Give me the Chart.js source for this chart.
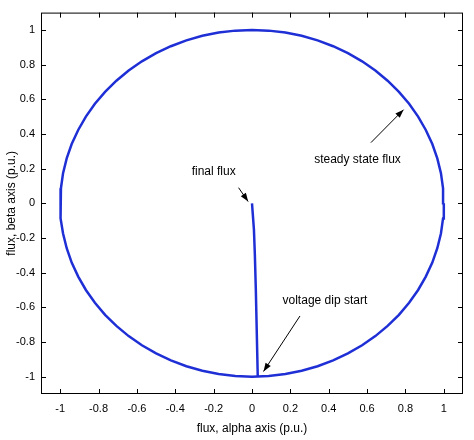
<!DOCTYPE html>
<html><head><meta charset="utf-8">
<script src="https://cdn.jsdelivr.net/npm/chart.js@4"></script>
<style>body{margin:0;background:#fff}</style>
</head><body>
<canvas id="c" width="474" height="440"></canvas>
<script>
const circleX = [1,.996,.985,.966,.940,.906,.866,.819,.766,.707,.643,.574,.5,.423,.342,.259,.174,.087,0,
  -.087,-.174,-.259,-.342,-.423,-.5,-.574,-.643,-.707,-.766,-.819,-.866,-.906,-.940,-.966,-.985,-.996,-1,
  -.996,-.985,-.966,-.940,-.906,-.866,-.819,-.766,-.707,-.643,-.574,-.5,-.423,-.342,-.259,-.174,-.087,0,
  .087,.174,.259,.342,.423,.5,.574,.643,.707,.766,.819,.866,.906,.940,.966,.985,.996,1];
const circleY = [0,.087,.174,.259,.342,.423,.5,.574,.643,.707,.766,.819,.866,.906,.940,.966,.985,.996,1,
  .996,.985,.966,.940,.906,.866,.819,.766,.707,.643,.574,.5,.423,.342,.259,.174,.087,0,
  -.087,-.174,-.259,-.342,-.423,-.5,-.574,-.643,-.707,-.766,-.819,-.866,-.906,-.940,-.966,-.985,-.996,-1,
  -.996,-.985,-.966,-.940,-.906,-.866,-.819,-.766,-.707,-.643,-.574,-.5,-.423,-.342,-.259,-.174,-.087,0];
// transient after voltage dip
const dipX = [0.03,0.025,0.02,0.015,0.01,0];
const dipY = [-1,-0.75,-0.5,-0.3,-0.15,0];
const tickVals = [-1,-0.8,-0.6,-0.4,-0.2,0,0.2,0.4,0.6,0.8,1];
const notes = [
  {text:'final flux', tx:-0.2, ty:0.18, from:[-0.07,0.09], to:[-0.02,0.01]},
  {text:'steady state flux', tx:0.55, ty:0.25, from:[0.62,0.35], to:[0.79,0.54]},
  {text:'voltage dip start', tx:0.38, ty:-0.56, from:[0.25,-0.65], to:[0.06,-0.97]}
];
const blue = '#1f2fd6';
const font = {family:'"Liberation Sans", Arial, sans-serif', size:11};

const frame = {
  id:'frame',
  afterDraw(chart){
    const {ctx, chartArea:a, scales:{x,y}} = chart;
    ctx.save();
    ctx.strokeStyle='#000'; ctx.lineWidth=1;
    ctx.strokeRect(a.left+0.5,a.top+0.5,a.width-1,a.height-1);
    ctx.beginPath();
    tickVals.forEach(v=>{
      const px=Math.round(x.getPixelForValue(v))+0.5, py=Math.round(y.getPixelForValue(v))+0.5;
      ctx.moveTo(px,a.bottom); ctx.lineTo(px,a.bottom-5);
      ctx.moveTo(px,a.top); ctx.lineTo(px,a.top+5);
      ctx.moveTo(a.left,py); ctx.lineTo(a.left+5,py);
      ctx.moveTo(a.right,py); ctx.lineTo(a.right-5,py);
    });
    ctx.stroke();
    ctx.font='12px "Liberation Sans", Arial, sans-serif';
    ctx.fillStyle='#000'; ctx.textAlign='center'; ctx.textBaseline='middle';
    notes.forEach(n=>{
      ctx.fillText(n.text, x.getPixelForValue(n.tx), y.getPixelForValue(n.ty));
      const x1=x.getPixelForValue(n.from[0]), y1=y.getPixelForValue(n.from[1]);
      const x2=x.getPixelForValue(n.to[0]), y2=y.getPixelForValue(n.to[1]);
      ctx.beginPath(); ctx.moveTo(x1,y1); ctx.lineTo(x2,y2); ctx.stroke();
      const ang=Math.atan2(y2-y1,x2-x1), L=9, w=0.35;
      ctx.beginPath(); ctx.moveTo(x2,y2);
      ctx.lineTo(x2-L*Math.cos(ang-w),y2-L*Math.sin(ang-w));
      ctx.lineTo(x2-L*Math.cos(ang+w),y2-L*Math.sin(ang+w));
      ctx.closePath(); ctx.fill();
    });
    ctx.restore();
  }
};

const toPts = (xs,ys)=>xs.map((v,i)=>({x:v,y:ys[i]}));
const fmt = v => String(Math.round(v*10)/10);
new Chart(document.getElementById('c'), {
  type:'scatter',
  data:{datasets:[
    {data:toPts(circleX,circleY), showLine:true, borderColor:blue, borderWidth:2.5, pointRadius:0},
    {data:toPts(dipX,dipY), showLine:true, borderColor:blue, borderWidth:2.5, pointRadius:0}
  ]},
  options:{
    responsive:false, animation:false,
    layout:{padding:{top:8,right:11,left:0,bottom:0}},
    plugins:{legend:{display:false},tooltip:{enabled:false}},
    scales:{
      x:{min:-1.1,max:1.1,
        afterBuildTicks:s=>{s.ticks=tickVals.map(v=>({value:v}));},
        afterFit:s=>{s.height=46;},
        grid:{display:false,drawTicks:false}, border:{display:false},
        ticks:{color:'#000',font,padding:8,maxRotation:0,callback:fmt},
        title:{display:true,text:'flux, alpha axis (p.u.)',color:'#000',font:{...font,size:12},padding:{top:2}}},
      y:{min:-1.1,max:1.1,
        afterBuildTicks:s=>{s.ticks=tickVals.map(v=>({value:v}));},
        afterFit:s=>{s.width=41;},
        grid:{display:false,drawTicks:false}, border:{display:false},
        ticks:{color:'#000',font,padding:6,callback:fmt},
        title:{display:true,text:'flux, beta axis (p.u.)',color:'#000',font:{...font,size:12},padding:{bottom:2}}}
    }
  },
  plugins:[frame]
});
</script>
</body></html>
